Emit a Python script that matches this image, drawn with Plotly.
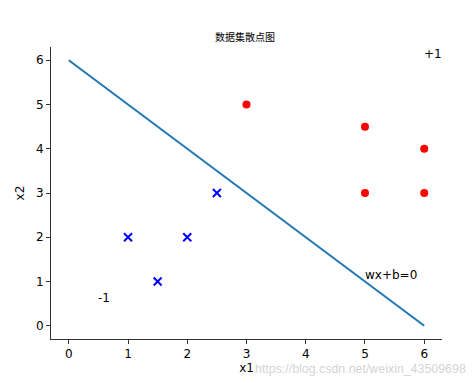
import plotly.graph_objects as go

# data
neg_x = [1, 1.5, 2, 2.5]
neg_y = [2, 1, 2, 3]
pos_x = [3, 5, 6, 5, 6]
pos_y = [5, 4.5, 4, 3, 3]
line_x = [0, 6]
line_y = [6, 0]
labels = [("+1", 6, 6), ("-1", 0.5, 0.5), ("wx+b=0", 5, 1)]
xticks = [0, 1, 2, 3, 4, 5, 6]
yticks = [0, 1, 2, 3, 4, 5, 6]

fig = go.Figure()
fig.add_trace(go.Scatter(x=line_x, y=line_y, mode="lines",
                         line=dict(color="#1f77b4", width=2), showlegend=False))
fig.add_trace(go.Scatter(x=neg_x, y=neg_y, mode="markers",
                         marker=dict(symbol="x-thin", size=8, color="blue",
                                     line=dict(color="blue", width=2)),
                         showlegend=False))
fig.add_trace(go.Scatter(x=pos_x, y=pos_y, mode="markers",
                         marker=dict(symbol="circle", size=8, color="red"),
                         showlegend=False))

for t, x, y in labels:
    fig.add_annotation(x=x, y=y, text=t, showarrow=False, xanchor="left",
                       yanchor="bottom", xshift=-2, yshift=-3,
                       font=dict(family="DejaVu Sans", size=12, color="black"))

fig.add_annotation(x=1, y=0, xref="paper", yref="paper", yshift=-39, xshift=26,
                   text="https://blog.csdn.net/weixin_43509698", showarrow=False,
                   xanchor="right", yanchor="bottom",
                   font=dict(family="Arial", size=12.4, color="rgba(200,200,200,0.8)"))

axis_common = dict(showgrid=False, zeroline=False, showline=True, linecolor="#333",
                   linewidth=1, ticks="outside", ticklen=4, tickcolor="#333",
                   tickfont=dict(family="DejaVu Sans", size=12, color="black"),
                   mirror=False)
fig.update_xaxes(range=[-0.3, 6.3], tickvals=xticks, **axis_common,
                 title=dict(text="x1", standoff=2,
                            font=dict(family="DejaVu Sans", size=12, color="black")))
fig.update_yaxes(range=[-0.3, 6.3], tickvals=yticks, **axis_common,
                 title=dict(text="x2", standoff=8,
                            font=dict(family="DejaVu Sans", size=12, color="black")))

fig.update_layout(
    width=466, height=376,
    margin=dict(l=41, r=32, t=39, b=41),
    plot_bgcolor="white", paper_bgcolor="white",
    title=dict(text="数据集散点图", x=(245 - 8) / 466, xanchor="center",
               y=1 - 29 / 376, yanchor="middle",
               font=dict(family="Noto Sans CJK SC", size=10, color="black")),
)

fig.write_html("out.html")
